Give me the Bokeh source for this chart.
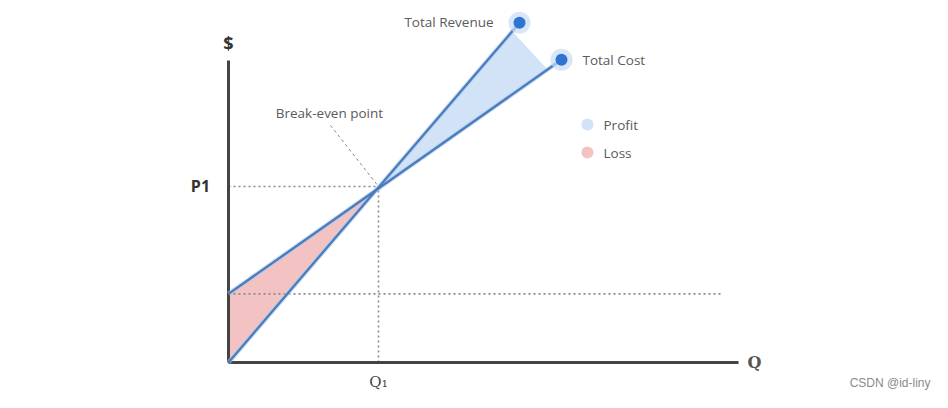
from bokeh.plotting import figure
from bokeh.models import Range1d
from bokeh.core.properties import value
from bokeh.embed import file_html
from bokeh.resources import INLINE

# ---- data (units: Q1 = 1, P1 = 1) ----
q_be = 1.0            # break-even quantity Q1
p_be = 1.0            # break-even price level P1
fixed_cost = 0.39     # total cost at Q = 0
revenue_q = [0.0, 1.94]
revenue = [0.0, 1.93]
cost_q = [0.0, 2.22]
cost = [0.39, 1.72]
axis_q_max = 3.40
axis_y_max = 1.716
fc_line_end = 3.28
legend_labels = ["Profit", "Loss"]
tick_labels = {"y": "P1", "x": "Q\u2081"}

# ---- style ----
LINE = "#4a7bbb"
DOT = "#2f74d0"
HALO = "#c9dcf5"
PROFIT = "#d2e3f8"
LOSS = "#f3c3c3"
TXT = "#5a5a5a"
FONT = value("Open Sans")

p = figure(width=932, height=392, output_backend="svg", toolbar_location=None,
           x_axis_type=None, y_axis_type=None, min_border=0,
           x_range=Range1d(-1.52, 4.6933), y_range=Range1d(-0.1705, 2.0568))
p.outline_line_color = None
p.grid.visible = False
p.background_fill_color = "white"

def along(xs, ys, t):
    return xs[0] + (xs[1] - xs[0]) * t, ys[0] + (ys[1] - ys[0]) * t

# profit area
r_x, r_y = along(revenue_q, revenue, 0.975)
c_x, c_y = along(cost_q, cost, 0.958)
p.patch([q_be, r_x, c_x], [p_be, r_y, c_y], fill_color=PROFIT, line_color=None)
# loss area
p.patch([0, q_be, 0], [fixed_cost, p_be, 0], fill_color=LOSS, line_color=None)

# dotted guides
p.line([0, q_be], [p_be, p_be], line_color="#8a8a8a", line_width=1.6, line_dash="2 3")
p.line([q_be, q_be], [0, p_be], line_color="#8a8a8a", line_width=1.6, line_dash="2 3")
p.line([0, fc_line_end], [fixed_cost, fixed_cost], line_color="#8a8a8a", line_width=1.6, line_dash="2 3")

# break-even leader
p.line([0.68, q_be], [1.347, p_be], line_color="#8a8a8a", line_width=1, line_dash="3 3")

# axes
p.line([0, 0], [0, axis_y_max], line_color="#444444", line_width=3)
p.line([0, axis_q_max], [0, 0], line_color="#444444", line_width=3)

# revenue & cost lines
p.line(revenue_q, revenue, line_color="#a9c9f0", line_width=4.5, line_alpha=0.6)
p.line(cost_q, cost, line_color="#a9c9f0", line_width=4.5, line_alpha=0.6)
p.line(revenue_q, revenue, line_color=LINE, line_width=2.3)
p.line(cost_q, cost, line_color=LINE, line_width=2.3)

# end dots
ends_x = [revenue_q[1], cost_q[1]]
ends_y = [revenue[1], cost[1]]
p.scatter(ends_x, ends_y, size=22, fill_color=HALO, line_color=None, fill_alpha=0.7)
p.scatter(ends_x, ends_y, size=12, fill_color=DOT, line_color=None)

# legend
p.scatter([2.393, 2.393], [1.352, 1.193], size=12, fill_color=[PROFIT, LOSS], line_color=None)
p.text([2.50, 2.50], [1.352, 1.193], text=legend_labels, text_font=FONT, text_font_size="13.5px",
       text_color=TXT, text_baseline="middle", text_align="left")

# labels
p.text([revenue_q[1] - 0.173], [revenue[1] + 0.007], text=["Total Revenue"], text_font=FONT,
       text_font_size="13.5px", text_color=TXT, text_baseline="middle", text_align="right")
p.text([cost_q[1] + 0.14], [cost[1]], text=["Total Cost"], text_font=FONT,
       text_font_size="13.5px", text_color=TXT, text_baseline="middle", text_align="left")
p.text([0.673], [1.415], text=["Break-even point"], text_font=FONT,
       text_font_size="13.5px", text_color=TXT, text_baseline="middle", text_align="center")

p.text([0], [1.818], text=["$"], text_font=value("Open Sans"), text_font_style="bold",
       text_font_size="18px", text_color="#333333", text_baseline="middle", text_align="center")
p.text([-0.187], [p_be], text=[tick_labels["y"]], text_font=value("Open Sans"), text_font_style="bold",
       text_font_size="16px", text_color="#333333", text_baseline="middle", text_align="center")
p.text([q_be], [-0.112], text=[tick_labels["x"]], text_font=value("DejaVu Serif"),
       text_font_size="15px", text_color="#444444", text_baseline="middle", text_align="center")
p.text([3.46], [0.0], text=["Q"], text_font=value("DejaVu Serif"), text_font_style="bold",
       text_font_size="16px", text_color="#555555", text_baseline="middle", text_align="left")

# watermark
p.text([4.68], [-0.118], text=["CSDN @id-liny"], text_font=value("Liberation Sans"),
       text_font_size="12px", text_color="#8a8a8a", text_baseline="middle", text_align="right")

open("out.html", "w").write(file_html(p, INLINE))
